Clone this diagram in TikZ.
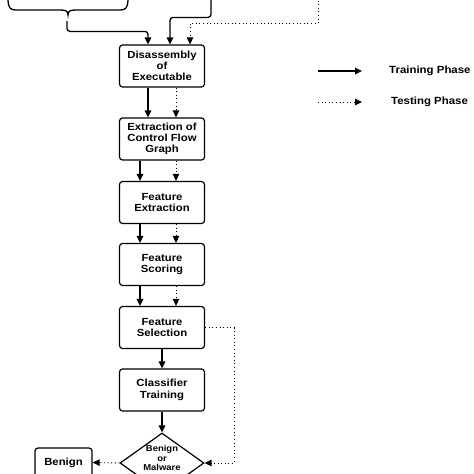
\documentclass[tikz,border=0pt]{standalone}
\usepackage{fontspec}
\setmainfont{Liberation Sans}[FakeStretch=1.1]
\usetikzlibrary{arrows.meta,shapes.geometric}
\tikzset{
  box/.style={draw, rounded corners=3pt, line width=1.2pt, minimum width=85pt, minimum height=42pt,
    align=center, inner sep=0pt, font=\fontsize{10.3}{11.3}\selectfont\bfseries},
  tip/.style={-{Triangle[length=7pt,width=6.5pt]}},
  solidarrow/.style={tip, line width=1.3pt, rounded corners=3pt},
  dotarrow/.style={tip, line width=0.9pt, dash pattern=on 1pt off 2.6pt},
  legend/.style={anchor=west, inner sep=0pt, font=\fontsize{10.4}{12}\selectfont\bfseries}
}
\begin{document}
\begin{tikzpicture}[x=1pt,y=-1pt]
\useasboundingbox (0,0) rectangle (474,474);
\clip (0,0) rectangle (474,474);
% brace
\draw[line width=1.3pt] (8,-2) .. controls (8,8) and (10,10) .. (16,10) -- (60,10)
  .. controls (66,10) and (68,11) .. (68,15) .. controls (68,11) and (70,10) .. (76,10)
  -- (120,10) .. controls (126,10) and (128,8) .. (128,-2);
% boxes
\node[box] (b1) at (162,66) {Disassembly\\of\\Executable};
\node[box] (b2) at (162,139) {Extraction of\\Control Flow\\Graph};
\node[box] (b3) at (162,202.5) {Feature\\Extraction};
\node[box] (b4) at (162,264.5) {Feature\\Scoring};
\node[box] (b5) at (162,327.5) {Feature\\Selection};
\node[box] (b6) at (162,390) {Classifier\\Training};
\node[draw, diamond, line width=1.2pt, minimum width=84pt, minimum height=60pt, inner sep=0pt,
  label={[align=center, inner sep=0pt, yshift=5pt, font=\fontsize{8.6}{9.6}\selectfont\bfseries]center:Benign\\or\\Malware}] (dia) at (162,463) {};
\node[box, minimum width=57pt, minimum height=29pt] (ben) at (63.5,462.5) {Benign};
% top inputs
\coordinate (s1) at (67,21);
\coordinate (s2) at (211,-3);
\coordinate (d1) at (318,-3);
\draw[solidarrow] (s1) |- ([xshift=-14pt,yshift=13pt]b1.north) -- ([xshift=-14pt]b1.north);
\draw[solidarrow] (s2) |- ([xshift=8pt,yshift=27pt]b1.north) -- ([xshift=8pt]b1.north);
\draw[dotarrow] (d1) |- ([xshift=28pt,yshift=21pt]b1.north) -- ([xshift=28pt]b1.north);
% chain
\draw[solidarrow] ([xshift=-14pt]b1.south) -- ([xshift=-14pt]b2.north);
\draw[dotarrow] ([xshift=14pt]b1.south) -- ([xshift=14pt]b2.north);
\draw[solidarrow] ([xshift=-22pt]b2.south) -- ([xshift=-22pt]b3.north);
\draw[dotarrow] ([xshift=14pt]b2.south) -- ([xshift=14pt]b3.north);
\draw[solidarrow] ([xshift=-22pt]b3.south) -- ([xshift=-22pt]b4.north);
\draw[dotarrow] ([xshift=14pt]b3.south) -- ([xshift=14pt]b4.north);
\draw[solidarrow] ([xshift=-22pt]b4.south) -- ([xshift=-22pt]b5.north);
\draw[dotarrow] ([xshift=14pt]b4.south) -- ([xshift=14pt]b5.north);
\draw[solidarrow] (b5.south) -- (b6.north);
\draw[solidarrow] (b6.south) -- (dia.north);
\draw[dotarrow] (b5.east) -- ++(29pt,0) |- (dia.east);
\draw[dotarrow] (dia.west) -- (ben.east);
% legend
\coordinate (l1a) at (318,71);
\coordinate (l1b) at (362,71);
\coordinate (l2a) at (318,102);
\coordinate (l2b) at (362,102);
\draw[solidarrow] (l1a) -- (l1b);
\draw[dotarrow] (l2a) -- (l2b);
\node[legend] (t1) at (389,71) {Training Phase};
\node[legend] (t2) at (391,102) {Testing Phase};
\end{tikzpicture}
\end{document}
